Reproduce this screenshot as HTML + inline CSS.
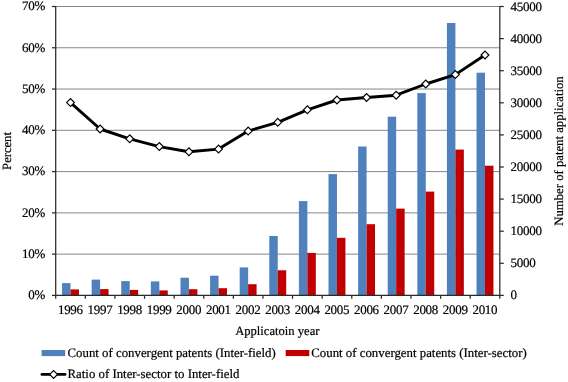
<!DOCTYPE html>
<html><head><meta charset="utf-8"><title>chart</title>
<style>
html,body{margin:0;padding:0;background:#fff;}
svg{display:block;}
text{font-family:"Liberation Serif",serif;fill:#000;stroke:#000;stroke-width:0.2px;text-rendering:geometricPrecision;}
.tk{font-size:13px;letter-spacing:-0.2px;}
.xl{letter-spacing:-0.3px;}
.ti{font-size:12.6px;}
.lg{font-size:12.83px;}
</style></head><body>
<svg width="568" height="382" viewBox="0 0 568 382">
<rect width="568" height="382" fill="#fff"/>

<line x1="55.7" x2="499.8" y1="6.50" y2="6.50" stroke="#868686" stroke-width="1"/>
<line x1="55.7" x2="499.8" y1="47.77" y2="47.77" stroke="#868686" stroke-width="1"/>
<line x1="55.7" x2="499.8" y1="89.04" y2="89.04" stroke="#868686" stroke-width="1"/>
<line x1="55.7" x2="499.8" y1="130.31" y2="130.31" stroke="#868686" stroke-width="1"/>
<line x1="55.7" x2="499.8" y1="171.59" y2="171.59" stroke="#868686" stroke-width="1"/>
<line x1="55.7" x2="499.8" y1="212.86" y2="212.86" stroke="#868686" stroke-width="1"/>
<line x1="55.7" x2="499.8" y1="254.13" y2="254.13" stroke="#868686" stroke-width="1"/>
<rect x="62.04" y="283.10" width="8.46" height="12.30" fill="#4f81bd"/>
<rect x="70.50" y="289.40" width="8.46" height="6.00" fill="#c00000"/>
<rect x="91.65" y="279.60" width="8.46" height="15.80" fill="#4f81bd"/>
<rect x="100.11" y="289.10" width="8.46" height="6.30" fill="#c00000"/>
<rect x="121.26" y="281.10" width="8.46" height="14.30" fill="#4f81bd"/>
<rect x="129.72" y="289.90" width="8.46" height="5.50" fill="#c00000"/>
<rect x="150.86" y="281.40" width="8.46" height="14.00" fill="#4f81bd"/>
<rect x="159.32" y="290.40" width="8.46" height="5.00" fill="#c00000"/>
<rect x="180.47" y="277.70" width="8.46" height="17.70" fill="#4f81bd"/>
<rect x="188.93" y="289.20" width="8.46" height="6.20" fill="#c00000"/>
<rect x="210.08" y="275.70" width="8.46" height="19.70" fill="#4f81bd"/>
<rect x="218.54" y="288.20" width="8.46" height="7.20" fill="#c00000"/>
<rect x="239.68" y="267.40" width="8.46" height="28.00" fill="#4f81bd"/>
<rect x="248.14" y="284.20" width="8.46" height="11.20" fill="#c00000"/>
<rect x="269.29" y="236.00" width="8.46" height="59.40" fill="#4f81bd"/>
<rect x="277.75" y="270.30" width="8.46" height="25.10" fill="#c00000"/>
<rect x="298.90" y="201.10" width="8.46" height="94.30" fill="#4f81bd"/>
<rect x="307.36" y="252.90" width="8.46" height="42.50" fill="#c00000"/>
<rect x="328.50" y="174.10" width="8.46" height="121.30" fill="#4f81bd"/>
<rect x="336.96" y="237.80" width="8.46" height="57.60" fill="#c00000"/>
<rect x="358.11" y="146.50" width="8.46" height="148.90" fill="#4f81bd"/>
<rect x="366.57" y="224.20" width="8.46" height="71.20" fill="#c00000"/>
<rect x="387.72" y="116.70" width="8.46" height="178.70" fill="#4f81bd"/>
<rect x="396.18" y="208.60" width="8.46" height="86.80" fill="#c00000"/>
<rect x="417.32" y="93.10" width="8.46" height="202.30" fill="#4f81bd"/>
<rect x="425.78" y="191.60" width="8.46" height="103.80" fill="#c00000"/>
<rect x="446.93" y="23.00" width="8.46" height="272.40" fill="#4f81bd"/>
<rect x="455.39" y="149.60" width="8.46" height="145.80" fill="#c00000"/>
<rect x="476.54" y="72.70" width="8.46" height="222.70" fill="#4f81bd"/>
<rect x="485.00" y="165.70" width="8.46" height="129.70" fill="#c00000"/>
<line x1="55.7" x2="55.7" y1="5.875" y2="296.025" stroke="#2a2a2a" stroke-width="1.25"/>
<line x1="499.8" x2="499.8" y1="5.875" y2="296.025" stroke="#2a2a2a" stroke-width="1.25"/>
<line x1="55.7" x2="499.8" y1="295.4" y2="295.4" stroke="#2a2a2a" stroke-width="1.25"/>
<line x1="52.0" x2="55.7" y1="6.50" y2="6.50" stroke="#2a2a2a" stroke-width="1.25"/>
<text class="tk" x="45.2" y="10.40" text-anchor="end">70%</text>
<line x1="52.0" x2="55.7" y1="47.77" y2="47.77" stroke="#2a2a2a" stroke-width="1.25"/>
<text class="tk" x="45.2" y="51.67" text-anchor="end">60%</text>
<line x1="52.0" x2="55.7" y1="89.04" y2="89.04" stroke="#2a2a2a" stroke-width="1.25"/>
<text class="tk" x="45.2" y="92.94" text-anchor="end">50%</text>
<line x1="52.0" x2="55.7" y1="130.31" y2="130.31" stroke="#2a2a2a" stroke-width="1.25"/>
<text class="tk" x="45.2" y="134.21" text-anchor="end">40%</text>
<line x1="52.0" x2="55.7" y1="171.59" y2="171.59" stroke="#2a2a2a" stroke-width="1.25"/>
<text class="tk" x="45.2" y="175.49" text-anchor="end">30%</text>
<line x1="52.0" x2="55.7" y1="212.86" y2="212.86" stroke="#2a2a2a" stroke-width="1.25"/>
<text class="tk" x="45.2" y="216.76" text-anchor="end">20%</text>
<line x1="52.0" x2="55.7" y1="254.13" y2="254.13" stroke="#2a2a2a" stroke-width="1.25"/>
<text class="tk" x="45.2" y="258.03" text-anchor="end">10%</text>
<line x1="52.0" x2="55.7" y1="295.40" y2="295.40" stroke="#2a2a2a" stroke-width="1.25"/>
<text class="tk" x="45.2" y="299.30" text-anchor="end">0%</text>
<line x1="499.8" x2="503.8" y1="6.50" y2="6.50" stroke="#2a2a2a" stroke-width="1.25"/>
<text class="tk" x="510.4" y="10.50">45000</text>
<line x1="499.8" x2="503.8" y1="38.60" y2="38.60" stroke="#2a2a2a" stroke-width="1.25"/>
<text class="tk" x="510.4" y="42.60">40000</text>
<line x1="499.8" x2="503.8" y1="70.70" y2="70.70" stroke="#2a2a2a" stroke-width="1.25"/>
<text class="tk" x="510.4" y="74.70">35000</text>
<line x1="499.8" x2="503.8" y1="102.80" y2="102.80" stroke="#2a2a2a" stroke-width="1.25"/>
<text class="tk" x="510.4" y="106.80">30000</text>
<line x1="499.8" x2="503.8" y1="134.90" y2="134.90" stroke="#2a2a2a" stroke-width="1.25"/>
<text class="tk" x="510.4" y="138.90">25000</text>
<line x1="499.8" x2="503.8" y1="167.00" y2="167.00" stroke="#2a2a2a" stroke-width="1.25"/>
<text class="tk" x="510.4" y="171.00">20000</text>
<line x1="499.8" x2="503.8" y1="199.10" y2="199.10" stroke="#2a2a2a" stroke-width="1.25"/>
<text class="tk" x="510.4" y="203.10">15000</text>
<line x1="499.8" x2="503.8" y1="231.20" y2="231.20" stroke="#2a2a2a" stroke-width="1.25"/>
<text class="tk" x="510.4" y="235.20">10000</text>
<line x1="499.8" x2="503.8" y1="263.30" y2="263.30" stroke="#2a2a2a" stroke-width="1.25"/>
<text class="tk" x="510.4" y="267.30">5000</text>
<line x1="499.8" x2="503.8" y1="295.40" y2="295.40" stroke="#2a2a2a" stroke-width="1.25"/>
<text class="tk" x="510.4" y="299.40">0</text>
<line x1="55.70" x2="55.70" y1="295.4" y2="298.79999999999995" stroke="#2a2a2a" stroke-width="1.25"/>
<line x1="85.31" x2="85.31" y1="295.4" y2="298.79999999999995" stroke="#2a2a2a" stroke-width="1.25"/>
<line x1="114.91" x2="114.91" y1="295.4" y2="298.79999999999995" stroke="#2a2a2a" stroke-width="1.25"/>
<line x1="144.52" x2="144.52" y1="295.4" y2="298.79999999999995" stroke="#2a2a2a" stroke-width="1.25"/>
<line x1="174.13" x2="174.13" y1="295.4" y2="298.79999999999995" stroke="#2a2a2a" stroke-width="1.25"/>
<line x1="203.73" x2="203.73" y1="295.4" y2="298.79999999999995" stroke="#2a2a2a" stroke-width="1.25"/>
<line x1="233.34" x2="233.34" y1="295.4" y2="298.79999999999995" stroke="#2a2a2a" stroke-width="1.25"/>
<line x1="262.95" x2="262.95" y1="295.4" y2="298.79999999999995" stroke="#2a2a2a" stroke-width="1.25"/>
<line x1="292.55" x2="292.55" y1="295.4" y2="298.79999999999995" stroke="#2a2a2a" stroke-width="1.25"/>
<line x1="322.16" x2="322.16" y1="295.4" y2="298.79999999999995" stroke="#2a2a2a" stroke-width="1.25"/>
<line x1="351.77" x2="351.77" y1="295.4" y2="298.79999999999995" stroke="#2a2a2a" stroke-width="1.25"/>
<line x1="381.37" x2="381.37" y1="295.4" y2="298.79999999999995" stroke="#2a2a2a" stroke-width="1.25"/>
<line x1="410.98" x2="410.98" y1="295.4" y2="298.79999999999995" stroke="#2a2a2a" stroke-width="1.25"/>
<line x1="440.59" x2="440.59" y1="295.4" y2="298.79999999999995" stroke="#2a2a2a" stroke-width="1.25"/>
<line x1="470.19" x2="470.19" y1="295.4" y2="298.79999999999995" stroke="#2a2a2a" stroke-width="1.25"/>
<line x1="499.80" x2="499.80" y1="295.4" y2="298.79999999999995" stroke="#2a2a2a" stroke-width="1.25"/>
<text class="tk xl" x="70.35" y="314.3" text-anchor="middle">1996</text>
<text class="tk xl" x="99.96" y="314.3" text-anchor="middle">1997</text>
<text class="tk xl" x="129.57" y="314.3" text-anchor="middle">1998</text>
<text class="tk xl" x="159.17" y="314.3" text-anchor="middle">1999</text>
<text class="tk xl" x="188.78" y="314.3" text-anchor="middle">2000</text>
<text class="tk xl" x="218.39" y="314.3" text-anchor="middle">2001</text>
<text class="tk xl" x="247.99" y="314.3" text-anchor="middle">2002</text>
<text class="tk xl" x="277.60" y="314.3" text-anchor="middle">2003</text>
<text class="tk xl" x="307.21" y="314.3" text-anchor="middle">2004</text>
<text class="tk xl" x="336.81" y="314.3" text-anchor="middle">2005</text>
<text class="tk xl" x="366.42" y="314.3" text-anchor="middle">2006</text>
<text class="tk xl" x="396.03" y="314.3" text-anchor="middle">2007</text>
<text class="tk xl" x="425.63" y="314.3" text-anchor="middle">2008</text>
<text class="tk xl" x="455.24" y="314.3" text-anchor="middle">2009</text>
<text class="tk xl" x="484.85" y="314.3" text-anchor="middle">2010</text>
<polyline points="70.50,102.60 100.11,129.00 129.72,138.80 159.32,146.60 188.93,151.80 218.54,149.10 248.14,131.10 277.75,122.30 307.36,109.80 336.96,100.00 366.57,97.50 396.18,95.20 425.78,84.00 455.39,74.60 485.00,55.00" fill="none" stroke="#000" stroke-width="2.9" stroke-linejoin="round" stroke-linecap="round"/>
<path d="M66.60 102.60 L70.50 98.70 L74.40 102.60 L70.50 106.50 Z" fill="#fff" stroke="#000" stroke-width="1.2"/>
<path d="M96.21 129.00 L100.11 125.10 L104.01 129.00 L100.11 132.90 Z" fill="#fff" stroke="#000" stroke-width="1.2"/>
<path d="M125.82 138.80 L129.72 134.90 L133.62 138.80 L129.72 142.70 Z" fill="#fff" stroke="#000" stroke-width="1.2"/>
<path d="M155.42 146.60 L159.32 142.70 L163.22 146.60 L159.32 150.50 Z" fill="#fff" stroke="#000" stroke-width="1.2"/>
<path d="M185.03 151.80 L188.93 147.90 L192.83 151.80 L188.93 155.70 Z" fill="#fff" stroke="#000" stroke-width="1.2"/>
<path d="M214.64 149.10 L218.54 145.20 L222.44 149.10 L218.54 153.00 Z" fill="#fff" stroke="#000" stroke-width="1.2"/>
<path d="M244.24 131.10 L248.14 127.20 L252.04 131.10 L248.14 135.00 Z" fill="#fff" stroke="#000" stroke-width="1.2"/>
<path d="M273.85 122.30 L277.75 118.40 L281.65 122.30 L277.75 126.20 Z" fill="#fff" stroke="#000" stroke-width="1.2"/>
<path d="M303.46 109.80 L307.36 105.90 L311.26 109.80 L307.36 113.70 Z" fill="#fff" stroke="#000" stroke-width="1.2"/>
<path d="M333.06 100.00 L336.96 96.10 L340.86 100.00 L336.96 103.90 Z" fill="#fff" stroke="#000" stroke-width="1.2"/>
<path d="M362.67 97.50 L366.57 93.60 L370.47 97.50 L366.57 101.40 Z" fill="#fff" stroke="#000" stroke-width="1.2"/>
<path d="M392.28 95.20 L396.18 91.30 L400.08 95.20 L396.18 99.10 Z" fill="#fff" stroke="#000" stroke-width="1.2"/>
<path d="M421.88 84.00 L425.78 80.10 L429.68 84.00 L425.78 87.90 Z" fill="#fff" stroke="#000" stroke-width="1.2"/>
<path d="M451.49 74.60 L455.39 70.70 L459.29 74.60 L455.39 78.50 Z" fill="#fff" stroke="#000" stroke-width="1.2"/>
<path d="M481.10 55.00 L485.00 51.10 L488.90 55.00 L485.00 58.90 Z" fill="#fff" stroke="#000" stroke-width="1.2"/>
<text class="ti" x="277.3" y="334.6" text-anchor="middle">Applicatoin year</text>
<text class="ti" transform="translate(11.3,151) rotate(-90)" text-anchor="middle">Percent</text>
<text class="ti" style="font-size:12.72px" transform="translate(563.1,151) rotate(-90)" text-anchor="middle">Number of patent application</text>
<rect x="41.6" y="350" width="23.6" height="6.1" fill="#4f81bd"/>
<text class="lg" x="67.5" y="357.2">Count of convergent patents (Inter-field)</text>
<rect x="285.7" y="350" width="23.6" height="6.1" fill="#c00000"/>
<text class="lg" x="311.3" y="357.2">Count of convergent patents (Inter-sector)</text>
<line x1="42" x2="65" y1="374.4" y2="374.4" stroke="#000" stroke-width="2.9" stroke-linecap="round"/>
<path d="M49.70 374.40 L53.60 370.50 L57.50 374.40 L53.60 378.30 Z" fill="#fff" stroke="#000" stroke-width="1.2"/>
<text class="lg" x="67.5" y="378.4">Ratio of Inter-sector to Inter-field</text>
</svg></body></html>
